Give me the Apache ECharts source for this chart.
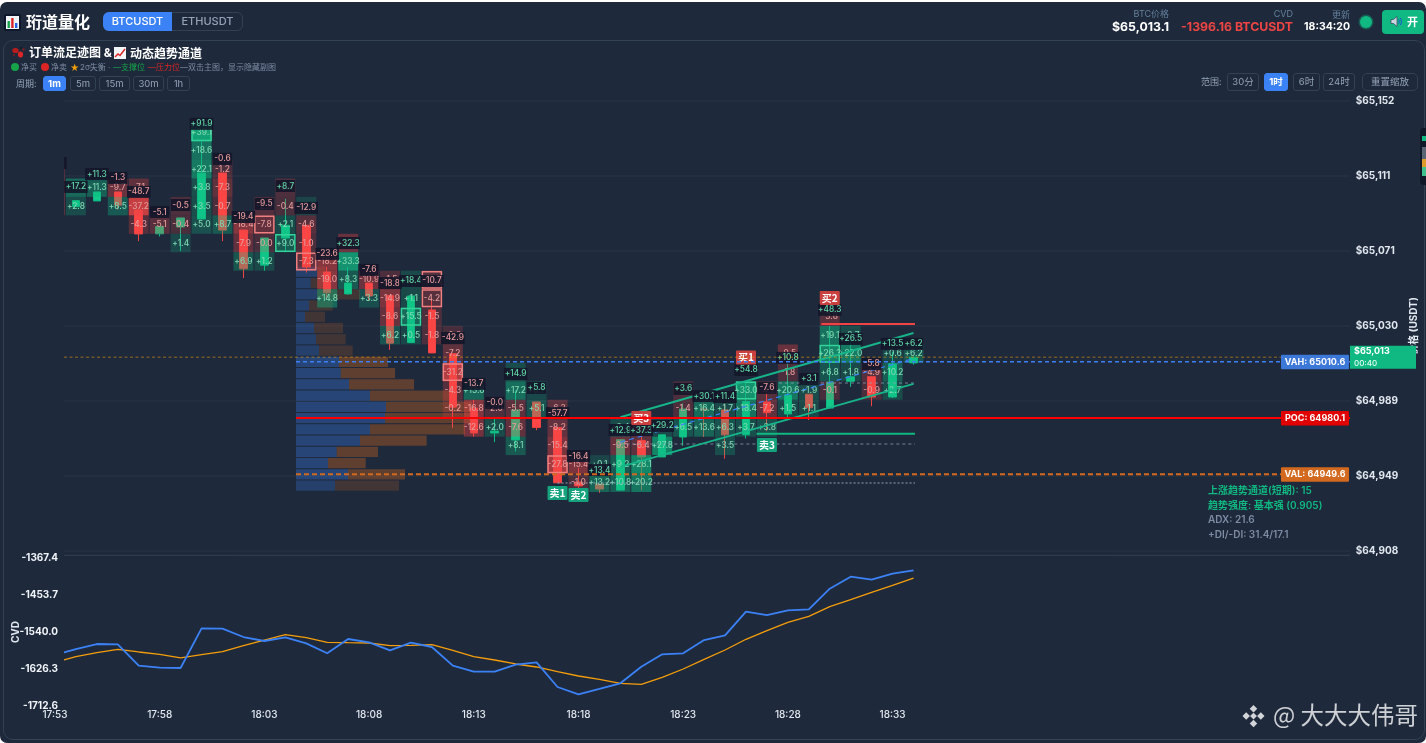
<!DOCTYPE html>
<html><head><meta charset="utf-8">
<script src="https://cdn.jsdelivr.net/npm/echarts@6/dist/echarts.min.js"></script>
<style>
html,body{margin:0;padding:0;width:1426px;height:743px;overflow:hidden;background:#fff;font-family:Inter,"Noto Sans CJK SC",sans-serif}
#app{position:absolute;left:0;top:1.5px;width:1426px;height:741.5px;background:#1e293b;border-radius:7px;overflow:hidden;z-index:0}
#panel{position:absolute;left:2.5px;top:38px;width:1422px;height:700px;border:1px solid #334155;border-radius:10px;box-sizing:border-box}
#chart{position:absolute;left:0;top:0;width:1426px;height:743px;z-index:1}
.t{position:absolute;white-space:nowrap;line-height:1;z-index:5}
.btn{position:absolute;box-sizing:border-box;border:1px solid #334155;border-radius:3px;color:#94a3b8;font-size:9.5px;text-align:center;z-index:5}
.btn.on{background:#3b82f6;border-color:#3b82f6;color:#fff;font-weight:700}
svg.i{position:absolute;z-index:5}
</style></head><body>
<div id="app"><div id="panel"></div></div>
<div id="chart"></div>
<script>
// ---------- data ----------
const times = ['17:53','17:54','17:55','17:56','17:57','17:58','17:59','18:00','18:01','18:02','18:03','18:04','18:05','18:06','18:07','18:08','18:09','18:10','18:11','18:12','18:13','18:14','18:15','18:16','18:17','18:18','18:19','18:20','18:21','18:22','18:23','18:24','18:25','18:26','18:27','18:28','18:29','18:30','18:31','18:32','18:33','18:34'];
const opens  = [null,65094.7,65097.8,65102.7,65092.9,65080,65083.7,65088,65113,65082,65063,65077.7,65084.6,65059.3,65047.4,65053.3,65046.6,65021,65038.7,65015,64985.5,64972,64968.2,64988.8,64975,64945.4,64944.3,64941,64968,64959,64969.8,64985,64984.5,64971,64988.8,64982.3,64993,64985.5,65000,65002.5,64991.5,65010];
const closes = [null,65098,65102.7,65095.5,65079.9,65084,65088.6,65113,65082,65061,65077.7,65084.6,65062,65048,65053.3,65046.3,65020.7,65046.3,65015.4,64986,64972,64973,64984.5,64975,64945,64943.3,64941.6,64968.4,64959,64971,64985,64984.5,64971,64989,64983,64992.6,64985.7,64999.6,65002.5,64991.5,65009.5,65013.1];
const lows   = [null,65094.7,65097.8,65093,65076,65078.5,65070.7,65088,65076,65056,65060,65070,65059,65045,65047,65043.5,65017,65021,65015.4,64974.7,64970,64967,64962,64973.5,64945,64941,64939.5,64941,64941,64959,64965,64969.8,64958,64969,64973,64980,64979,64985.5,64997,64986.5,64991,65009];
const highs  = [null,65098,65102.7,65102.7,65092.9,65084,65088.6,65130,65113,65082,65077.7,65099,65084.6,65062,65062,65053.3,65046.6,65046.3,65045,65015,64990,64980,64995,64988.8,64975,64953,64944.3,64968.4,64975,64971,64988,64988,64988,65000,64996,65012,64993,65030,65022,65002.5,65016,65013.1];
const deltaTotals = [-16,17.2,11.3,-1.3,-48.7,-5.1,-0.5,91.9,-0.6,-19.4,-9.5,8.7,-12.9,-23.6,32.3,-7.6,-18.8,18.4,-10.7,-42.9,-13.7,-0.0,14.9,5.8,-57.7,-16.4,13.4,12.9,37.3,29.2,3.6,30.1,11.4,54.8,-7.6,10.8,3.1,48.3,26.5,-5.8,13.5,6.2];
const deltaTagPrices = [65118.4,65105.4,65112.4,65110.3,65102.7,65091.8,65095.6,65139.6,65120.6,65089.1,65096.2,65105.9,65094,65069.1,65075,65060.4,65053.3,65054.4,65054.4,65023.5,64998.6,64988.3,65004,64996.4,64982.8,64959.5,64951.9,64973.6,64973.6,64975.8,64995.9,64992,64991.5,65006.2,64996.4,65012.7,65001.3,65038.7,65023,65009.4,65020.3,65020.3];
// footprint cells per candle: [price level, delta, imbalance flag]
const footprint = [
 [[65115,-3],[65105,-7],[65095,-6]],
 [[65105,14.4],[65095,2.8]],
 [[65105,11.3]],
 [[65105,-9.7],[65095,8.5]],
 [[65105,-7.1],[65095,-37.2],[65085,-4.3]],
 [[65085,-5.1]],
 [[65095,-1.5],[65085,-0.4],[65075,1.4]],
 [[65135,39.1,1],[65125,18.6],[65115,22.1],[65105,3.8],[65095,3.5],[65085,5.0]],
 [[65115,-1.2],[65105,-7.3],[65095,-0.7],[65085,8.7]],
 [[65085,-18.4],[65075,-7.9],[65065,6.9]],
 [[65095,-2.9],[65085,-7.8,1],[65075,-0.0],[65065,1.2]],
 [[65105,-2.0],[65095,-0.4],[65085,2.1],[65075,9.0,1]],
 [[65095,0.0],[65085,-4.6],[65075,-1.0],[65065,-7.3,1]],
 [[65065,-18.2],[65055,-19.0],[65045,14.8]],
 [[65075,-9.3],[65065,33.3],[65055,8.3]],
 [[65055,-10.9],[65045,3.3]],
 [[65055,-1.5],[65045,-14.9],[65035,-8.6],[65025,6.2]],
 [[65055,1.3],[65045,1.1],[65035,15.5,1],[65025,0.5]],
 [[65055,-3.2,1],[65045,-4.2,1],[65035,-1.5],[65025,-1.8]],
 [[65025,-0.2],[65015,-7.2],[65005,-31.2,1],[64995,-4.3],[64985,-0.2]],
 [[64995,13.8],[64985,-16.8],[64975,-12.6]],
 [[64985,-2.0],[64975,2.0]],
 [[65005,2.7],[64995,17.2],[64985,-5.5],[64975,-7.6],[64965,8.1]],
 [[64995,0.7],[64985,5.1]],
 [[64985,-6.3],[64975,-8.2],[64965,-15.4],[64955,-27.8,1]],
 [[64955,-15.4],[64945,-1.0]],
 [[64955,0.1],[64945,13.2]],
 [[64975,2.4],[64965,-9.5],[64955,9.2],[64945,10.8]],
 [[64975,-4.6],[64965,-6.4],[64955,28.1],[64945,20.2]],
 [[64975,1.4],[64965,27.8]],
 [[64995,-1.5],[64985,-1.4],[64975,6.5]],
 [[64985,16.4],[64975,13.6]],
 [[64985,1.7],[64975,6.3],[64965,3.5]],
 [[64995,33.0,1],[64985,18.4],[64975,3.7]],
 [[64995,-4.2],[64985,-7.2],[64975,3.8]],
 [[65015,-9.5],[65005,-1.8],[64995,20.6],[64985,1.5]],
 [[64995,1.9],[64985,1.1]],
 [[65035,-3.8],[65025,19.1],[65015,26.3,1],[65005,6.8],[64995,-0.1]],
 [[65025,2.7],[65015,22.0],[65005,1.8]],
 [[65005,-4.9],[64995,-0.9]],
 [[65015,0.6],[65005,10.2],[64995,2.7]],
 [[65015,6.2]]
];
const profilePrices = [65059.4,65053.3,65047.2,65041.1,65035,65028.9,65022.8,65016.7,65010.6,65004.5,64998.4,64992.3,64986.2,64980.1,64974,64967.9,64961.8,64955.7,64949.6,64943.5];
const profileBuy  = [21,14.7,21,13,9,18,20,23,43,44.7,53,74,90,89,74,64,40.7,32,52,39];
const profileSell = [8,12.3,43,23.7,20,29,29.7,33.7,49,54.3,65,80,86,87,95,66.7,41.3,37.7,57,64];
const levelNames  = ['VAH','POC','VAL'];
const levelPrices = [65010.6,64980.1,64949.6];
const lastPrice = 65013.1;
const countdown = '00:40';
const signalIdx    = [24,25,28,33,34,37];
const signalPrices = [64939.5,64938.4,64980.1,65012.9,64965.5,65045.2];
const signalLabels = ['卖1','卖2','买3','买1','卖3','买2'];
const channelFrom = 27, channelTo = 41;
const channelUpper = [64980.5,65026.2];
const channelMiddle = [64967,65012.4];
const channelLower = [64953.6,64998.6];
const resistance = [36.6,41.07,65031.1];
const support = [33.5,41.07,64971.6];
const dottedRefs = [[34,41.07,64999.1],[27,41.07,64966],[24,41.07,64944.9]];
const priceTicks = [64908,64948.67,64989.33,65030,65070.67,65111.33,65152];
const cvdTicks = [-1712.6,-1626.3,-1540.0,-1453.7,-1367.4];
const cvd = [-1593.6,-1579.7,-1568.0,-1568.7,-1618.6,-1623.3,-1624,-1531.4,-1532.3,-1551.7,-1561,-1552.4,-1566.4,-1589.7,-1556.3,-1564,-1582.7,-1565,-1575,-1618.6,-1632.6,-1632.6,-1616.3,-1610.7,-1668.3,-1685.3,-1672.9,-1659.7,-1620.9,-1592,-1589.7,-1558.7,-1547.7,-1492.7,-1500.4,-1489.4,-1487.1,-1439,-1411,-1418,-1404,-1396.2];
const cvdMa = [-1610.7,-1597.6,-1588.3,-1580.4,-1586.6,-1592,-1600.6,-1592.9,-1586,-1572,-1558.7,-1546.3,-1553.3,-1564,-1565,-1565.7,-1572,-1571,-1569.6,-1582.7,-1597.6,-1605.3,-1614.6,-1621.6,-1632.6,-1642.6,-1650.3,-1659.7,-1662,-1645.7,-1626.3,-1603.7,-1582,-1557,-1537,-1517.4,-1503.4,-1481,-1464.7,-1447.4,-1431.1,-1414.1];

// ---------- layout ----------
const FONT='Inter,"Noto Sans CJK SC",sans-serif';
const BAND=20.94, NCAT=62, GL=44.5, GW=BAND*NCAT, CLIPX=64, GRIDEND=1350, PROFILE_X=296;
const cats = times.concat(new Array(NCAT-times.length).fill(''));
const fmtD = v => (v<0||Object.is(v,-0)?'-':'+')+Math.abs(v).toFixed(1);
const txt=(x,y,s,fill,font,align)=>({type:'text',silent:true,style:{x,y,text:s,fill,font:font||('500 8.3px '+FONT),textAlign:align||'center',textVerticalAlign:'middle',align:align||'center',verticalAlign:'middle'}});
const ln=(x1,y1,x2,y2,stroke,w,dash)=>({type:'line',silent:true,shape:{x1,y1,x2,y2},style:{stroke,lineWidth:w,lineDash:dash||null,fill:null}});
const rc=(x,y,w,h,fill,stroke,lw,r)=>({type:'rect',silent:true,shape:{x,y,width:w,height:h,r:r||0},style:{fill,stroke:stroke||null,lineWidth:lw||0}});
const cxAt=(api,i)=>api.coord([0,priceTicks[0]])[0]+i*api.size([1,0])[0];

const cellRows=[];
footprint.forEach((rows,i)=>rows.forEach(r=>cellRows.push([i,r[0],r[1],r[2]||0])));

const option={
 animation:false,
 backgroundColor:'transparent',
 textStyle:{fontFamily:FONT},
 grid:[
  {left:GL,top:101,width:GW,height:450,outerBoundsMode:'none'},
  {left:GL,top:558,width:GW,height:148,outerBoundsMode:'none'}
 ],
 xAxis:[
  {type:'category',gridIndex:0,data:cats,boundaryGap:true,axisLine:{show:false},axisTick:{show:false},axisLabel:{show:false},splitLine:{show:false}},
  {type:'category',gridIndex:1,data:cats,boundaryGap:true,axisLine:{show:false},axisTick:{show:false},splitLine:{show:false},
   axisLabel:{color:'#e2e8f0',fontSize:10,fontWeight:500,margin:4,hideOverlap:false,interval:(i)=>i%5===0&&i<=40}},
  {type:'value',gridIndex:0,min:GL-PROFILE_X,max:GW+GL-PROFILE_X,show:false,splitLine:{show:false}}
 ],
 yAxis:[
  {type:'value',gridIndex:0,position:'right',min:64908,max:65152,
   name:'价格 (USDT)',nameLocation:'middle',nameRotate:90,nameGap:62,nameTextStyle:{color:'#e2e8f0',fontSize:10,fontWeight:700},
   axisLine:{show:false},axisTick:{show:false},splitLine:{show:false},
   axisLabel:{color:'#e2e8f0',fontSize:10,fontWeight:700,margin:13,customValues:priceTicks,formatter:v=>'$'+Math.round(v).toLocaleString('en-US')}},
  {type:'value',gridIndex:1,min:-1712.6,max:-1367.4,
   name:'CVD',nameLocation:'middle',nameRotate:90,nameGap:24,nameMoveOverlap:false,nameTextStyle:{color:'#e2e8f0',fontSize:10,fontWeight:700},
   axisLine:{show:false},axisTick:{show:false},splitLine:{show:false},
   axisLabel:{color:'#f1f5f9',fontSize:10,fontWeight:700,margin:-13.5,customValues:cvdTicks,formatter:v=>v.toFixed(1)}}
 ],
 series:[
  {name:'gridlines',type:'custom',z:0,silent:true,xAxisIndex:0,yAxisIndex:0,data:priceTicks.map(p=>[0,p]),encode:{x:0,y:1},
   renderItem:(params,api)=>{const y=api.coord([0,priceTicks[params.dataIndex]])[1];return ln(CLIPX,y,GRIDEND,y,'rgba(51,65,85,0.55)',1);}},
  {name:'profile',type:'custom',z:1,silent:true,xAxisIndex:2,yAxisIndex:0,data:profilePrices.map((p,i)=>[profileBuy[i],p]),encode:{x:0,y:1},
   renderItem:(params,api)=>{
    const i=params.dataIndex,p=profilePrices[i];
    const a=api.coord([0,p]),b=api.coord([profileBuy[i],p]),c=api.coord([profileBuy[i]+profileSell[i],p]);
    const h=api.size([0,6.1])[1]-1;
    const inVA=p<=levelPrices[0]&&p>=levelPrices[2];
    return {type:'group',children:[
     rc(a[0],a[1]-h/2,b[0]-a[0],h,inVA?'rgba(59,130,246,0.32)':'rgba(59,130,246,0.26)'),
     rc(b[0],a[1]-h/2,c[0]-b[0],h,inVA?'rgba(249,115,22,0.30)':'rgba(249,115,22,0.17)')
    ]};
   }},
  {name:'K线',type:'candlestick',z:2,silent:true,xAxisIndex:0,yAxisIndex:0,barWidth:8,
   itemStyle:{color:'#10c98a',color0:'#ff4646',borderColor:'#10b981',borderColor0:'#ef4444',borderWidth:1},
   data:opens.map((o,i)=>o===null?'-':[o,closes[i],lows[i],highs[i]]).concat(new Array(NCAT-times.length).fill('-'))},
  {name:'footprint',type:'custom',z:3,silent:true,xAxisIndex:0,yAxisIndex:0,data:cellRows.map(r=>[r[0],r[1]]),encode:{x:0,y:1},
   renderItem:(params,api)=>{
    const r=cellRows[params.dataIndex],pt=api.coord([r[0],r[1]]),h=api.size([0,10])[1];
    const pos=r[2]>0||(r[2]===0&&!Object.is(r[2],-0));
    const a=Math.min(0.85,0.2+Math.abs(r[2])/40*0.65);
    const fill=(pos?'rgba(16,185,129,':'rgba(239,68,68,')+a+')';
    let x0=pt[0]-10,x1=pt[0]+10; if(x0<CLIPX)x0=CLIPX; if(x1<=x0)return null;
    const kids=[rc(x0,pt[1]-h/2,x1-x0,h,fill)];
    if(r[3])kids.push(rc(pt[0]-9.5,pt[1]-h/2+1,19,h-2,'transparent',pos?'#34d399':'#f08080',1.5));
    if(r[0]>0)kids.push(txt(pt[0],pt[1],fmtD(r[2]),pos?'#7fd8b2':'#e49a9a'));
    return {type:'group',children:kids};
   }},
  {name:'channel',type:'custom',z:4,silent:true,xAxisIndex:0,yAxisIndex:0,data:[[channelFrom,channelUpper[0]]],encode:{x:0,y:1},
   renderItem:(params,api)=>{
    const kids=[];
    const seg=(pa,pb,i0,i1,c,w,d)=>{kids.push(ln(cxAt(api,i0),api.coord([0,pa])[1],cxAt(api,i1),api.coord([0,pb])[1],c,w,d));};
    dottedRefs.forEach((d,k)=>seg(d[2],d[2],d[0],d[1],'rgba(148,163,184,0.5)',k===2?2:1.5,k===2?[2,2]:[3,3]));
    seg(channelMiddle[0],channelMiddle[1],channelFrom,channelTo,'#3b82f6',1.2,[5,4]);
    seg(channelUpper[0],channelUpper[1],channelFrom,channelTo,'#17b489',2);
    seg(channelLower[0],channelLower[1],channelFrom,channelTo,'#17b489',2);
    seg(resistance[2],resistance[2],resistance[0],resistance[1],'#ef4444',2);
    seg(support[2],support[2],support[0],support[1],'#10b981',2);
    return {type:'group',children:kids};
   }},
  {name:'delta',type:'custom',z:5,silent:true,xAxisIndex:0,yAxisIndex:0,data:deltaTotals.map((d,i)=>[i,deltaTagPrices[i]]),encode:{x:0,y:1},
   renderItem:(params,api)=>{
    const i=params.dataIndex,d=deltaTotals[i],pt=api.coord([i,deltaTagPrices[i]]);
    const neg=d<0||Object.is(d,-0);
    const w=fmtD(d).length*4.3+2;
    let x0=pt[0]-w/2,x1=pt[0]+w/2; if(x0<CLIPX)x0=CLIPX;
    if(x1<=x0)return null;
    const kids=[rc(x0,pt[1]-6,x1-x0,12,'rgba(20,22,42,0.9)')];
    if(i>0)kids.push(txt(pt[0],pt[1],fmtD(d),neg?'#e49a9a':'#62d6a6'));
    return {type:'group',children:kids};
   }},
  {name:'signals',type:'custom',z:5,silent:true,xAxisIndex:0,yAxisIndex:0,data:signalIdx.map((x,i)=>[x,signalPrices[i]]),encode:{x:0,y:1},
   renderItem:(params,api)=>{
    const i=params.dataIndex,pt=api.coord([signalIdx[i],signalPrices[i]]),buy=signalLabels[i][0]==='买';
    return {type:'group',children:[
     rc(pt[0]-10,pt[1]-7,20,14,buy?'#c9403f':'#14a37c',null,0,1),
     txt(pt[0],pt[1],signalLabels[i],'#ffffff','700 10px "Noto Sans CJK SC",'+FONT)
    ]};
   }},
  {name:'levels',type:'custom',z:6,silent:true,xAxisIndex:2,yAxisIndex:0,data:levelPrices.map(p=>[0,p]),encode:{x:0,y:1},
   renderItem:(params,api)=>{
    const i=params.dataIndex,p=levelPrices[i],pt=api.coord([0,p]);
    const col=['#3b82f6','#ff0000','#d2691e'][i],bg=['#3b78d8','#e00000','#d2691e'][i];
    const dash=[[4,3],null,[5,3]][i],w=[1.5,2,2][i];
    const kids=[ln(pt[0],pt[1],GRIDEND,pt[1],col,w,dash),
     rc(1281,pt[1]-7,68,14.5,bg,null,0,1),
     txt(1315,pt[1]+0.3,levelNames[i]+': '+p.toFixed(1),'#ffffff','700 9px '+FONT)];
    return {type:'group',children:kids};
   }},
  {name:'last',type:'custom',z:7,silent:true,xAxisIndex:0,yAxisIndex:0,data:[[0,lastPrice]],encode:{x:0,y:1},
   renderItem:(params,api)=>{
    const y=api.coord([0,lastPrice])[1];
    return {type:'group',children:[
     ln(CLIPX,y,1281,y,'rgba(245,158,11,0.38)',1.5,[3,2.5]),
     rc(1350,y-11.5,66,23,'#10b981'),
     txt(1354,y-5.5,'$'+Math.round(lastPrice).toLocaleString('en-US'),'#ffffff','700 9px '+FONT,'left'),
     txt(1354,y+6,countdown,'#e6fff5','500 8px '+FONT,'left')
    ]};
   }},
  {name:'CVD',type:'line',xAxisIndex:1,yAxisIndex:1,data:cvd,showSymbol:false,symbol:'none',z:4,lineStyle:{color:'#3b82f6',width:1.8}},
  {name:'CVD MA',type:'line',xAxisIndex:1,yAxisIndex:1,data:cvdMa,showSymbol:false,symbol:'none',z:3,lineStyle:{color:'#f59e0b',width:1.3}}
 ],
 graphic:[
  {type:'rect',z:100,silent:true,shape:{x:50,y:645,width:14,height:18.5},style:{fill:'#1e293b'}},
  {type:'line',z:1,silent:true,shape:{x1:64,y1:555.3,x2:GRIDEND,y2:555.3},style:{stroke:'#334155',lineWidth:1}}
 ]
};
const chart=echarts.init(document.getElementById('chart'),null,{renderer:'canvas',width:1426,height:743});
chart.setOption(option);
</script>

<!-- header -->
<svg class="i" style="left:4px;top:14px" width="17" height="17" viewBox="0 0 17 17"><rect width="17" height="17" rx="2" fill="#0f172a"/><rect x="2" y="2" width="13" height="13" fill="#f1f5f9"/><rect x="3.5" y="7" width="2.4" height="7" fill="#16a34a"/><rect x="7.2" y="4" width="2.4" height="10" fill="#dc2626"/><rect x="11" y="9" width="2.4" height="5" fill="#2563eb"/></svg>
<div class="t" style="left:26px;top:13px;font-size:16px;font-weight:700;color:#fff;font-family:'Noto Sans CJK SC'">珩道量化</div>
<div style="position:absolute;left:103px;top:12px;width:140px;height:19px;border:1px solid #334155;border-radius:6px;box-sizing:border-box;z-index:5"></div>
<div style="position:absolute;left:103px;top:12px;width:69px;height:19px;background:#3b82f6;border-radius:6px 0 0 6px;z-index:5;color:#fff;font-size:11px;font-weight:500;text-align:center;line-height:19px">BTCUSDT</div>
<div class="t" style="left:172px;top:12px;width:71px;height:19px;color:#94a3b8;font-size:11px;font-weight:500;text-align:center;line-height:19px">ETHUSDT</div>

<div class="t" style="right:257px;top:9px;font-size:9px;color:#64829c">BTC价格</div>
<div class="t" style="right:257px;top:21px;font-size:12.3px;font-weight:700;color:#fff">$65,013.1</div>
<div class="t" style="right:133px;top:9px;font-size:9px;color:#64829c">CVD</div>
<div class="t" style="right:133px;top:21px;font-size:12.3px;font-weight:700;color:#ef4444">-1396.16 BTCUSDT</div>
<div class="t" style="right:76px;top:10px;font-size:9px;color:#64829c">更新</div>
<div class="t" style="right:76px;top:22px;font-size:10.5px;font-weight:700;color:#fff">18:34:20</div>
<div style="position:absolute;left:1360px;top:16px;width:12px;height:12px;border-radius:50%;background:#10b981;box-shadow:0 0 0 1.5px rgba(16,185,129,.35);z-index:5"></div>
<div style="position:absolute;left:1382px;top:9.5px;width:42px;height:24px;background:#10b981;border-radius:4px;z-index:5"></div>
<svg class="i" style="left:1390px;top:15px" width="13" height="13" viewBox="0 0 13 13"><path d="M1 4.5h2.5L7 1.5v10L3.5 8.5H1z" fill="#cbd5e1" stroke="#334155" stroke-width=".7"/><path d="M8.6 4.3c.9 1.2.9 3.2 0 4.4M10.3 3c1.5 2 1.5 5 0 7" stroke="#1d4ed8" stroke-width="1" fill="none"/></svg>
<div class="t" style="left:1407px;top:16px;font-size:11px;font-weight:700;color:#fff;font-family:'Noto Sans CJK SC'">开</div>

<!-- panel title -->
<svg class="i" style="left:11px;top:46px" width="15" height="14" viewBox="0 0 15 14"><ellipse cx="4.5" cy="4.5" rx="3.2" ry="2.6" fill="#b91c1c"/><ellipse cx="9.5" cy="8.5" rx="2.6" ry="3" fill="#dc2626"/><circle cx="3" cy="9" r="1.1" fill="#7f1d1d"/><circle cx="12.5" cy="3.5" r="1.2" fill="#7f1d1d"/><circle cx="10" cy="2" r="1" fill="#111827"/></svg>
<div class="t" style="left:29px;top:47px;font-size:12px;font-weight:700;color:#fff;font-family:Inter,'Noto Sans CJK SC'">订单流足迹图 &amp;</div>
<svg class="i" style="left:114px;top:47px" width="12" height="12" viewBox="0 0 12 12"><rect width="12" height="12" fill="#f1f5f9"/><path d="M1 10L4 7l2 1.5L11 2" stroke="#dc2626" stroke-width="1.5" fill="none"/></svg>
<div class="t" style="left:130px;top:47px;font-size:12px;font-weight:700;color:#fff;font-family:'Noto Sans CJK SC'">动态趋势通道</div>
<div style="position:absolute;left:11px;top:63px;width:8px;height:8px;border-radius:50%;background:#16a34a;z-index:5"></div>
<div class="t" style="left:21px;top:63px;font-size:8px;color:#7d8ca3">净买</div>
<div style="position:absolute;left:41px;top:63px;width:8px;height:8px;border-radius:50%;background:#dc2626;z-index:5"></div>
<div class="t" style="left:51px;top:63px;font-size:8px;color:#7d8ca3">净卖</div>
<div class="t" style="left:70px;top:62.5px;font-size:9px;color:#f59e0b">★</div>
<div class="t" style="left:80px;top:63px;font-size:8px;color:#7d8ca3">2σ失衡 ·</div>
<div class="t" style="left:113px;top:63px;font-size:8px;color:#16a34a">—支撑位</div>
<div class="t" style="left:148px;top:63px;font-size:8px;color:#dc2626">—压力位</div>
<div class="t" style="left:180px;top:63px;font-size:8px;color:#7d8ca3">—双击主图，显示隐藏副图</div>

<div class="t" style="left:16px;top:79px;font-size:9px;color:#94a3b8">周期:</div>
<div class="btn on" style="left:43px;top:76px;width:23px;height:15px;line-height:13px">1m</div>
<div class="btn" style="left:70px;top:76px;width:26px;height:15px;line-height:13px">5m</div>
<div class="btn" style="left:99px;top:76px;width:31px;height:15px;line-height:13px">15m</div>
<div class="btn" style="left:133px;top:76px;width:31px;height:15px;line-height:13px">30m</div>
<div class="btn" style="left:167px;top:76px;width:23px;height:15px;line-height:13px">1h</div>

<div class="t" style="left:1201px;top:77px;font-size:9px;color:#94a3b8">范围:</div>
<div class="btn" style="left:1227px;top:73px;width:32px;height:18px;line-height:16px">30分</div>
<div class="btn on" style="left:1264px;top:73px;width:24px;height:18px;line-height:16px">1时</div>
<div class="btn" style="left:1293px;top:73px;width:27px;height:18px;line-height:16px">6时</div>
<div class="btn" style="left:1323px;top:73px;width:32px;height:18px;line-height:16px">24时</div>
<div class="btn" style="left:1362px;top:73px;width:56px;height:18px;line-height:16px;border-radius:5px">重置缩放</div>

<!-- trend info -->
<div class="t" style="left:1208px;top:485px;font-size:10px;font-weight:600;color:#10b981">上涨趋势通道(短期): 15</div>
<div class="t" style="left:1208px;top:500px;font-size:10px;font-weight:600;color:#10b981">趋势强度: 基本强 (0.905)</div>
<div class="t" style="left:1208px;top:514px;font-size:10px;font-weight:600;color:#7d8ca3">ADX: 21.6</div>
<div class="t" style="left:1208px;top:529px;font-size:10px;font-weight:600;color:#7d8ca3">+DI/-DI: 31.4/17.1</div>

<!-- right edge widget -->
<div style="position:absolute;left:1420px;top:128px;width:6px;height:57px;background:#111827;border-radius:4px 0 0 4px;z-index:5;overflow:hidden">
<div style="position:absolute;left:2px;top:8px;width:4px;height:5px;background:#10b981"></div>
<div style="position:absolute;left:2px;top:19px;width:4px;height:12px;background:#5b6472"></div>
<div style="position:absolute;left:2px;top:31px;width:4px;height:8px;background:#e09b2d"></div>
<div style="position:absolute;left:2px;top:39px;width:4px;height:9px;background:#3fc08c"></div>
</div>

<!-- watermark -->
<svg class="i" style="left:1241px;top:704px" width="25" height="25" viewBox="0 0 24 24" fill="rgba(255,255,255,.8)"><path d="M12 1l3.6 3.6L12 8.2 8.4 4.6zM5 8l3.6 3.6L5 15.2 1.4 11.6zM19 8l3.6 3.6-3.6 3.6-3.6-3.6zM12 8.4l3.3 3.2-3.3 3.3-3.3-3.3zM12 15.2l3.6 3.6L12 22.4l-3.6-3.6z"/></svg>
<div class="t" style="left:1273px;top:703px;font-size:23.5px;color:rgba(255,255,255,.78);font-family:'Noto Sans CJK SC'">@ 大大大伟哥</div>
</body></html>
